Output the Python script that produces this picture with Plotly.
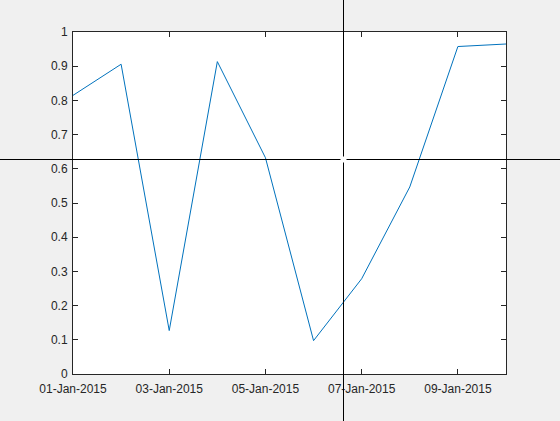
import plotly.graph_objects as go

dates = ["2015-01-01", "2015-01-02", "2015-01-03", "2015-01-04", "2015-01-05",
         "2015-01-06", "2015-01-07", "2015-01-08", "2015-01-09", "2015-01-10"]
values = [0.8147, 0.9058, 0.1270, 0.9134, 0.6324, 0.0975, 0.2785, 0.5469, 0.9575, 0.9649]
tick_dates = ["2015-01-01", "2015-01-03", "2015-01-05", "2015-01-07", "2015-01-09"]
tick_labels = ["01-Jan-2015", "03-Jan-2015", "05-Jan-2015", "07-Jan-2015", "09-Jan-2015"]
y_ticks = [0, 0.1, 0.2, 0.3, 0.4, 0.5, 0.6, 0.7, 0.8, 0.9, 1]
y_labels = ["0", "0.1", "0.2", "0.3", "0.4", "0.5", "0.6", "0.7", "0.8", "0.9", "1"]

W, H = 560, 421
L, R, T, B = 73, 54, 32, 47
pw, ph = W - L - R, H - T - B

fig = go.Figure()
fig.add_trace(go.Scatter(x=dates, y=values, mode="lines",
                         line=dict(color="#0072BD", width=1)))

axis_common = dict(showgrid=False, zeroline=False, showline=True, linecolor="#262626",
                   linewidth=1, mirror="ticks", ticks="inside", ticklen=5,
                   tickcolor="#262626",
                   tickfont=dict(family="Liberation Sans, Arial, sans-serif", size=12, color="#262626"))
fig.update_xaxes(range=["2015-01-01", "2015-01-10"], tickvals=tick_dates, ticktext=tick_labels,
                 ticklabelstandoff=4, **axis_common)
fig.update_yaxes(range=[0, 1], tickvals=y_ticks, ticktext=y_labels, ticklabelstandoff=2, **axis_common)

# crosshair in pixel terms converted to paper coords
cx_px, cy_px, gap = 343.5, 159.5, 3
def px_x(p): return (p - L) / pw
def px_y(p): return (H - B - p) / ph
segs = [
    (cx_px, 0, cx_px, cy_px - gap),
    (cx_px, cy_px + gap, cx_px, H),
    (0, cy_px, cx_px - gap, cy_px),
    (cx_px + gap, cy_px, W, cy_px),
]
for x0, y0, x1, y1 in segs:
    fig.add_shape(type="line", xref="paper", yref="paper",
                  x0=px_x(x0), y0=px_y(y0), x1=px_x(x1), y1=px_y(y1),
                  line=dict(color="black", width=1))

fig.update_layout(width=W, height=H, margin=dict(l=L, r=R, t=T, b=B),
                  paper_bgcolor="#f0f0f0", plot_bgcolor="white", showlegend=False)
fig.write_html("out.html", config={"displayModeBar": False},
               post_script="document.body.style.margin='0';document.body.style.overflow='hidden';")
